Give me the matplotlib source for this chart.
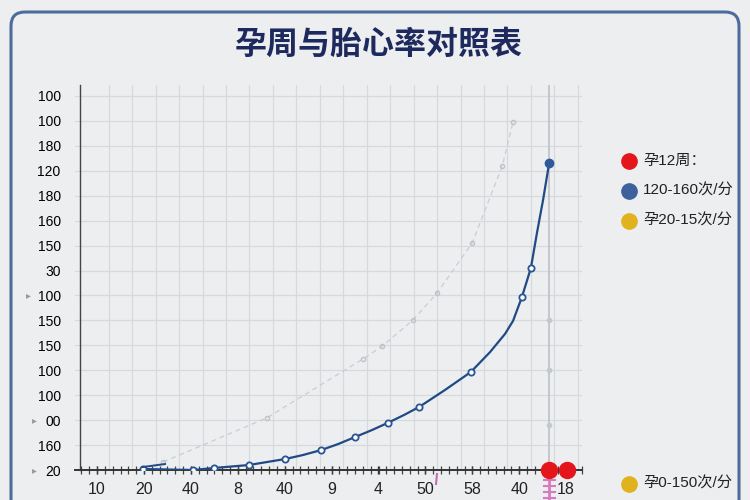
import numpy as np
import matplotlib.pyplot as plt
from matplotlib.patches import FancyBboxPatch

plt.rcParams['font.family'] = ['Liberation Sans', 'Noto Sans CJK SC', 'DejaVu Sans']

# tick labels (as printed on the chart)
x_labels = ['10', '20', '40', '8', '40', '9', '4', '50', '58', '40', '18']
y_labels = ['20', '160', '00', '100', '100', '150', '150', '100', '30',
            '150', '160', '180', '120', '180', '100', '100']

# main heart-rate curve
curve_x = [0.98, 2.05, 2.49, 3.24, 4.01, 4.39, 4.78, 5.14, 5.50, 5.86, 6.20, 6.55,
           6.87, 7.42, 7.97, 8.38, 8.70, 8.87, 9.06, 9.25, 9.38, 9.51, 9.64]
curve_y = [0.04, 0.00, 0.08, 0.20, 0.44, 0.60, 0.80, 1.04, 1.32, 1.60, 1.89, 2.21,
           2.53, 3.21, 3.93, 4.73, 5.46, 5.98, 6.94, 8.10, 9.51, 10.83, 12.31]
curve_marks = [0, 1, 2, 3, 4, 6, 8, 10, 12, 14, 18, 19]
stub_x = [0.98, 1.45]
stub_y = [0.12, 0.24]

# faint dashed reference curve
ref_x = [1.41, 3.62, 5.67, 6.08, 6.74, 7.25, 8.00, 8.64, 8.87]
ref_y = [0.32, 2.09, 4.45, 4.97, 6.02, 7.10, 9.11, 12.19, 13.96]

# vertical marker line
vline_x = 9.64
vline_pts = [1.80, 4.02, 6.02]
red_x = [9.64, 10.02]
red_y = [0.0, 0.0]

legend_labels = ['孕12周：', '120-160次/分', '孕20-15次/分', '孕0-150次/分']
legend_colors = ['#e5161b', '#3c619c', '#e0b21e', '#e0b21e']
legend_rows = [161, 191, 221, 484]

bg = '#edeef0'
fig = plt.figure(figsize=(7.5, 5), dpi=100, facecolor=bg)

# overlay in pixel units for frame / legend
ov = fig.add_axes([0, 0, 1, 1], zorder=0)
ov.set_xlim(0, 750)
ov.set_ylim(500, 0)
ov.axis('off')
ov.add_patch(FancyBboxPatch((11, 12), 728, 520, boxstyle='round,pad=0,rounding_size=14',
                            fc='none', ec='#4b6c9c', lw=2.2))

ax = fig.add_axes([75.4/750, 30/500, 506.6/750, 385/500], zorder=1)
ax.set_facecolor(bg)
ax.set_xlim(-0.46, 10.34)
ax.set_ylim(0, 15.44)

ax.set_xticks(range(len(x_labels)))
ax.set_xticklabels(x_labels, fontsize=11.5, color='#222222')
ax.set_xticks(np.arange(-0.33, 10.34, 1/6), minor=True)
ax.set_yticks(range(len(y_labels)))
ax.set_yticklabels(y_labels, fontsize=11.5, color='#222222')

ax.tick_params(axis='x', which='major', length=6, width=1.0, color='#333333', pad=6, direction='inout')
ax.tick_params(axis='x', which='minor', length=6, width=0.9, color='#444444', direction='inout')
ax.tick_params(axis='y', length=0, pad=14)

for s in ['top', 'right']:
    ax.spines[s].set_visible(False)
ax.spines['left'].set_position(('data', -0.36))
ax.spines['left'].set_color('#444444')
ax.spines['left'].set_linewidth(1.0)
ax.spines['bottom'].set_color('#333333')
ax.spines['bottom'].set_linewidth(1.4)

for gx in np.arange(0.25, 10.34, 0.5):
    ax.axvline(gx, color='#d6dadf', lw=0.9, zorder=0)
for gy in range(1, len(y_labels)):
    ax.axhline(gy, color='#d6dadf', lw=0.9, zorder=0)

# reference dashed curve
ax.plot(ref_x, ref_y, color='#c9cdd2', lw=0.9, ls=(0, (4, 3)), marker='o', ms=3,
        mfc='none', mec='#bfc3c8', zorder=2)

# vertical line
ax.axvline(vline_x, color='#bcc1c7', lw=1.2, zorder=2)
ax.plot([vline_x] * len(vline_pts), vline_pts, 'o', ms=3, color='#c3c8cd', zorder=2)

# main curve
ax.plot(curve_x, curve_y, color='#1f4a86', lw=1.6, marker='o', ms=4.5, mfc='white',
        mec='#2a5595', mew=1.3, markevery=curve_marks, zorder=3)
ax.plot(stub_x, stub_y, color='#1f4a86', lw=1.4, zorder=3)
ax.plot(curve_x[-1], curve_y[-1], 'o', ms=6, color='#2d5a9c', zorder=4)

# red dots on the axis
ax.plot(red_x, red_y, 'o', ms=11.5, color='#e5161b', clip_on=False, zorder=5)

# small pink artefacts below the axis
ov.plot([549, 549], [476, 500], color='#d57bbe', lw=2)
for yy in [480, 486, 492, 498]:
    ov.plot([544, 555], [yy, yy], color='#d57bbe', lw=1.5)
ov.plot([437, 436], [474, 484], color='#c070b0', lw=1.5)

# small grey arrows beside some y labels
for px, py in [(28, 295), (34, 420), (34, 470)]:
    ov.text(px, py, '▸', fontsize=7, color='#9a9a9a', ha='center', va='center',
            family=['DejaVu Sans'])

# title
fig.text(0.505, 0.91, '孕周与胎心率对照表', fontsize=23, fontweight='bold', color='#1e2a5e',
         ha='center', va='center', family=['Noto Sans CJK SC', 'DejaVu Sans'])

# legend
for lab, col, row in zip(legend_labels, legend_colors, legend_rows):
    ov.plot(629, row, 'o', ms=11, color=col)
    ov.text(643, row, lab, fontsize=11, color='#222222', va='center', ha='left',
            family=['Liberation Sans', 'Noto Sans CJK SC', 'DejaVu Sans'])

plt.savefig('out.png', dpi=100, facecolor=bg)
